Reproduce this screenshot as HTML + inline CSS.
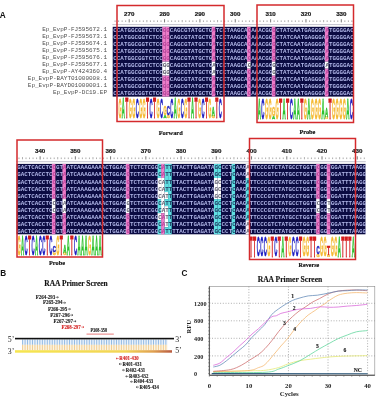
<!DOCTYPE html><html><head><meta charset="utf-8"><style>
html,body{margin:0;padding:0;background:#fff;}svg{display:block;will-change:transform;}
.seq{font-family:"Liberation Mono",monospace;font-size:5.9px;font-weight:bold;text-anchor:middle;}
.num{font-family:"Liberation Sans",sans-serif;font-size:6.2px;font-weight:bold;text-anchor:middle;fill:#1a1a1a;stroke:#1a1a1a;stroke-width:0.2px;}
.lg{font-family:"Liberation Sans",sans-serif;font-size:10px;font-weight:bold;}
.nm{font-family:"Liberation Mono",monospace;font-size:6.0px;text-anchor:end;fill:#505050;}
.lab{font-family:"Liberation Serif",serif;font-weight:bold;fill:#111;text-anchor:middle;stroke:#111;stroke-width:0.15px;}
.pl{font-family:"Liberation Sans",sans-serif;font-weight:bold;fill:#111;}
</style></head><body>
<svg width="377" height="400" viewBox="0 0 377 400">
<rect width="377" height="400" fill="#fff"/>
<text x="-0.2" y="17.6" class="pl" font-size="8.2">A</text>
<text x="107.0" y="31.2" class="nm">Ep_EvpP-FJ595672.1</text>
<text x="107.0" y="38.22" class="nm">Ep_EvpP-FJ595673.1</text>
<text x="107.0" y="45.24" class="nm">Ep_EvpP-FJ595674.1</text>
<text x="107.0" y="52.26" class="nm">Ep_EvpP-FJ595675.1</text>
<text x="107.0" y="59.28" class="nm">Ep_EvpP-FJ595676.1</text>
<text x="107.0" y="66.3" class="nm">Ep_EvpP-FJ595677.1</text>
<text x="107.0" y="73.32" class="nm">Ep_EvpP-AY424360.4</text>
<text x="107.0" y="80.34" class="nm">Ep_EvpP-BAYT01000008.1</text>
<text x="107.0" y="87.36" class="nm">Ep_EvpP-BAYD01000001.1</text>
<text x="107.0" y="94.38" class="nm">Ep_EvpP-DC19.EP</text>
<line x1="112.4" y1="24.6" x2="353.38" y2="24.6" stroke="#a8a8b8" stroke-width="0.7"/>
<rect x="112.7" y="26.8" width="240.38" height="69.8" fill="#0b0b42"/>
<rect x="162.19" y="26.8" width="3.54" height="34.9" fill="#ec7cc8"/>
<rect x="162.19" y="61.7" width="3.54" height="13.96" fill="#ffffff"/>
<rect x="162.19" y="75.66" width="3.54" height="20.94" fill="#ec7cc8"/>
<rect x="165.73" y="26.8" width="3.54" height="34.9" fill="#ec7cc8"/>
<rect x="165.73" y="61.7" width="3.54" height="13.96" fill="#ffffff"/>
<rect x="165.73" y="75.66" width="3.54" height="20.94" fill="#ec7cc8"/>
<rect x="211.68" y="26.8" width="3.54" height="34.9" fill="#ec7cc8"/>
<rect x="211.68" y="61.7" width="3.54" height="13.96" fill="#ffffff"/>
<rect x="211.68" y="75.66" width="3.54" height="20.94" fill="#ec7cc8"/>
<rect x="247.03" y="26.8" width="3.54" height="34.9" fill="#ec7cc8"/>
<rect x="247.03" y="61.7" width="3.54" height="6.98" fill="#ffffff"/>
<rect x="247.03" y="68.68" width="3.54" height="27.92" fill="#ec7cc8"/>
<rect x="271.78" y="26.8" width="3.54" height="34.9" fill="#ec7cc8"/>
<rect x="271.78" y="61.7" width="3.54" height="13.96" fill="#ffffff"/>
<rect x="271.78" y="75.66" width="3.54" height="20.94" fill="#ec7cc8"/>
<rect x="324.8" y="26.8" width="3.54" height="34.9" fill="#ec7cc8"/>
<rect x="324.8" y="61.7" width="3.54" height="6.98" fill="#ffffff"/>
<rect x="324.8" y="68.68" width="3.54" height="27.92" fill="#ec7cc8"/>
<path d="M115.07 20.4V22M118.6 20.4V22M122.14 20.4V22M125.67 20.4V22M132.74 20.4V22M136.28 20.4V22M139.81 20.4V22M143.35 20.4V22M146.88 20V22.2M150.42 20.4V22M153.95 20.4V22M157.49 20.4V22M161.02 20.4V22M168.09 20.4V22M171.63 20.4V22M175.16 20.4V22M178.7 20.4V22M182.23 20V22.2M185.77 20.4V22M189.3 20.4V22M192.84 20.4V22M196.37 20.4V22M203.44 20.4V22M206.98 20.4V22M210.51 20.4V22M214.05 20.4V22M217.58 20V22.2M221.12 20.4V22M224.65 20.4V22M228.19 20.4V22M231.72 20.4V22M238.79 20.4V22M242.33 20.4V22M245.86 20.4V22M249.4 20.4V22M252.93 20V22.2M256.47 20.4V22M260 20.4V22M263.54 20.4V22M267.07 20.4V22M274.14 20.4V22M277.68 20.4V22M281.21 20.4V22M284.75 20.4V22M288.28 20V22.2M291.82 20.4V22M295.35 20.4V22M298.89 20.4V22M302.42 20.4V22M309.49 20.4V22M313.03 20.4V22M316.56 20.4V22M320.1 20.4V22M323.63 20V22.2M327.17 20.4V22M330.7 20.4V22M334.24 20.4V22M337.77 20.4V22M344.84 20.4V22M348.38 20.4V22M351.91 20.4V22" stroke="#8a8a8a" stroke-width="0.7" fill="none"/>
<path d="M129.21 19.2V22.4M164.56 19.2V22.4M199.91 19.2V22.4M235.26 19.2V22.4M270.61 19.2V22.4M305.96 19.2V22.4M341.31 19.2V22.4" stroke="#555" stroke-width="0.8" fill="none"/>
<text x="129.21" y="15.7" class="num">270</text>
<text x="164.56" y="15.7" class="num">280</text>
<text x="199.91" y="15.7" class="num">290</text>
<text x="235.26" y="15.7" class="num">300</text>
<text x="270.61" y="15.7" class="num">310</text>
<text x="305.96" y="15.7" class="num">320</text>
<text x="341.31" y="15.7" class="num">330</text>
<text x="115.07 118.6 122.14 125.67 129.21 132.74 136.28 139.81 143.35 146.88 150.42 153.95 157.49 161.02 171.63 175.16 178.7 182.23 185.77 189.3 192.84 196.37 199.91 203.44 206.98 210.51 217.58 221.12 224.65 228.19 231.72 235.26 238.79 242.33 245.86 252.93 256.47 260 263.54 267.07 270.61 277.68 281.21 284.75 288.28 291.82 295.35 298.89 302.42 305.96 309.49 313.03 316.56 320.1 323.63 330.7 334.24 337.77 341.31 344.84 348.38 351.91" y="32.29" class="seq" fill="#b0b6e8">CCATGGCGGTCTCCCAGCGTATGCTGTCCTAAGCAAAACGGCTATCAATGAGGGATGGGGAC</text>
<text x="164.56 168.09 214.05 249.4 274.14 327.17" y="32.29" class="seq" fill="#b8449a">GGAGGA</text>
<text x="115.07 118.6 122.14 125.67 129.21 132.74 136.28 139.81 143.35 146.88 150.42 153.95 157.49 161.02 171.63 175.16 178.7 182.23 185.77 189.3 192.84 196.37 199.91 203.44 206.98 210.51 217.58 221.12 224.65 228.19 231.72 235.26 238.79 242.33 245.86 252.93 256.47 260 263.54 267.07 270.61 277.68 281.21 284.75 288.28 291.82 295.35 298.89 302.42 305.96 309.49 313.03 316.56 320.1 323.63 330.7 334.24 337.77 341.31 344.84 348.38 351.91" y="39.27" class="seq" fill="#b0b6e8">CCATGGCGGTCTCCCAGCGTATGCTGTCCTAAGCAAAACGGCTATCAATGAGGGATGGGGAC</text>
<text x="164.56 168.09 214.05 249.4 274.14 327.17" y="39.27" class="seq" fill="#b8449a">GGAGGA</text>
<text x="115.07 118.6 122.14 125.67 129.21 132.74 136.28 139.81 143.35 146.88 150.42 153.95 157.49 161.02 171.63 175.16 178.7 182.23 185.77 189.3 192.84 196.37 199.91 203.44 206.98 210.51 217.58 221.12 224.65 228.19 231.72 235.26 238.79 242.33 245.86 252.93 256.47 260 263.54 267.07 270.61 277.68 281.21 284.75 288.28 291.82 295.35 298.89 302.42 305.96 309.49 313.03 316.56 320.1 323.63 330.7 334.24 337.77 341.31 344.84 348.38 351.91" y="46.25" class="seq" fill="#b0b6e8">CCATGGCGGTCTCCCAGCGTATGCTGTCCTAAGCAAAACGGCTATCAATGAGGGATGGGGAC</text>
<text x="164.56 168.09 214.05 249.4 274.14 327.17" y="46.25" class="seq" fill="#b8449a">GGAGGA</text>
<text x="115.07 118.6 122.14 125.67 129.21 132.74 136.28 139.81 143.35 146.88 150.42 153.95 157.49 161.02 171.63 175.16 178.7 182.23 185.77 189.3 192.84 196.37 199.91 203.44 206.98 210.51 217.58 221.12 224.65 228.19 231.72 235.26 238.79 242.33 245.86 252.93 256.47 260 263.54 267.07 270.61 277.68 281.21 284.75 288.28 291.82 295.35 298.89 302.42 305.96 309.49 313.03 316.56 320.1 323.63 330.7 334.24 337.77 341.31 344.84 348.38 351.91" y="53.23" class="seq" fill="#b0b6e8">CCATGGCGGTCTCCCAGCGTATGCTGTCCTAAGCAAAACGGCTATCAATGAGGGATGGGGAC</text>
<text x="164.56 168.09 214.05 249.4 274.14 327.17" y="53.23" class="seq" fill="#b8449a">GGAGGA</text>
<text x="115.07 118.6 122.14 125.67 129.21 132.74 136.28 139.81 143.35 146.88 150.42 153.95 157.49 161.02 171.63 175.16 178.7 182.23 185.77 189.3 192.84 196.37 199.91 203.44 206.98 210.51 217.58 221.12 224.65 228.19 231.72 235.26 238.79 242.33 245.86 252.93 256.47 260 263.54 267.07 270.61 277.68 281.21 284.75 288.28 291.82 295.35 298.89 302.42 305.96 309.49 313.03 316.56 320.1 323.63 330.7 334.24 337.77 341.31 344.84 348.38 351.91" y="60.21" class="seq" fill="#b0b6e8">CCATGGCGGTCTCCCAGCGTATGCTGTCCTAAGCAAAACGGCTATCAATGAGGGATGGGGAC</text>
<text x="164.56 168.09 214.05 249.4 274.14 327.17" y="60.21" class="seq" fill="#b8449a">GGAGGA</text>
<text x="115.07 118.6 122.14 125.67 129.21 132.74 136.28 139.81 143.35 146.88 150.42 153.95 157.49 161.02 171.63 175.16 178.7 182.23 185.77 189.3 192.84 196.37 199.91 203.44 206.98 210.51 217.58 221.12 224.65 228.19 231.72 235.26 238.79 242.33 245.86 252.93 256.47 260 263.54 267.07 270.61 277.68 281.21 284.75 288.28 291.82 295.35 298.89 302.42 305.96 309.49 313.03 316.56 320.1 323.63 330.7 334.24 337.77 341.31 344.84 348.38 351.91" y="67.19" class="seq" fill="#b0b6e8">CCATGGCGGTCTCCCAGCGTATGCTGTCCTAAGCAAAACGGCTATCAATGAGGGATGGGGAC</text>
<text x="164.56 168.09 214.05 249.4 274.14 327.17" y="67.19" class="seq" fill="#606070">GGAGGA</text>
<text x="115.07 118.6 122.14 125.67 129.21 132.74 136.28 139.81 143.35 146.88 150.42 153.95 157.49 161.02 171.63 175.16 178.7 182.23 185.77 189.3 192.84 196.37 199.91 203.44 206.98 210.51 217.58 221.12 224.65 228.19 231.72 235.26 238.79 242.33 245.86 252.93 256.47 260 263.54 267.07 270.61 277.68 281.21 284.75 288.28 291.82 295.35 298.89 302.42 305.96 309.49 313.03 316.56 320.1 323.63 330.7 334.24 337.77 341.31 344.84 348.38 351.91" y="74.17" class="seq" fill="#b0b6e8">CCATGGCGGTCTCCCAGCGTATGCTGTCCTAAGCAAAACGGCTATCAATGAGGGATGGGGAC</text>
<text x="164.56 168.09 214.05 274.14" y="74.17" class="seq" fill="#606070">GGAG</text>
<text x="249.4 327.17" y="74.17" class="seq" fill="#b8449a">GA</text>
<text x="115.07 118.6 122.14 125.67 129.21 132.74 136.28 139.81 143.35 146.88 150.42 153.95 157.49 161.02 171.63 175.16 178.7 182.23 185.77 189.3 192.84 196.37 199.91 203.44 206.98 210.51 217.58 221.12 224.65 228.19 231.72 235.26 238.79 242.33 245.86 252.93 256.47 260 263.54 267.07 270.61 277.68 281.21 284.75 288.28 291.82 295.35 298.89 302.42 305.96 309.49 313.03 316.56 320.1 323.63 330.7 334.24 337.77 341.31 344.84 348.38 351.91" y="81.15" class="seq" fill="#b0b6e8">CCATGGCGGTCTCCCAGCGTATGCTGTCCTAAGCAAAACGGCTATCAATGAGGGATGGGGAC</text>
<text x="164.56 168.09 214.05 249.4 274.14 327.17" y="81.15" class="seq" fill="#b8449a">GGAGGA</text>
<text x="115.07 118.6 122.14 125.67 129.21 132.74 136.28 139.81 143.35 146.88 150.42 153.95 157.49 161.02 171.63 175.16 178.7 182.23 185.77 189.3 192.84 196.37 199.91 203.44 206.98 210.51 217.58 221.12 224.65 228.19 231.72 235.26 238.79 242.33 245.86 252.93 256.47 260 263.54 267.07 270.61 277.68 281.21 284.75 288.28 291.82 295.35 298.89 302.42 305.96 309.49 313.03 316.56 320.1 323.63 330.7 334.24 337.77 341.31 344.84 348.38 351.91" y="88.13" class="seq" fill="#b0b6e8">CCATGGCGGTCTCCCAGCGTATGCTGTCCTAAGCAAAACGGCTATCAATGAGGGATGGGGAC</text>
<text x="164.56 168.09 214.05 249.4 274.14 327.17" y="88.13" class="seq" fill="#b8449a">GGAGGA</text>
<text x="115.07 118.6 122.14 125.67 129.21 132.74 136.28 139.81 143.35 146.88 150.42 153.95 157.49 161.02 171.63 175.16 178.7 182.23 185.77 189.3 192.84 196.37 199.91 203.44 206.98 210.51 217.58 221.12 224.65 228.19 231.72 235.26 238.79 242.33 245.86 252.93 256.47 260 263.54 267.07 270.61 277.68 281.21 284.75 288.28 291.82 295.35 298.89 302.42 305.96 309.49 313.03 316.56 320.1 323.63 330.7 334.24 337.77 341.31 344.84 348.38 351.91" y="95.11" class="seq" fill="#b0b6e8">CCATGGCGGTCTCCCAGCGTATGCTGTCCTAAGCAAAACGGCTATCAATGAGGGATGGGGAC</text>
<text x="164.56 168.09 214.05 249.4 274.14 327.17" y="95.11" class="seq" fill="#b8449a">GGAGGA</text>
<text transform="translate(118.4 118.12) scale(1 2.82)" class="lg" textLength="3.06" lengthAdjust="spacingAndGlyphs" fill="#f5ba34" stroke="#f5ba34" stroke-width="0.6" vector-effect="non-scaling-stroke">G</text>
<text transform="translate(121.86 118.4) scale(1 2.91)" class="lg" textLength="3.06" lengthAdjust="spacingAndGlyphs" fill="#2ec22e" stroke="#2ec22e" stroke-width="0.6" vector-effect="non-scaling-stroke">A</text>
<text transform="translate(125.32 118.4) scale(1 2.91)" class="lg" textLength="3.06" lengthAdjust="spacingAndGlyphs" fill="#d41c1c" stroke="#d41c1c" stroke-width="0.6" vector-effect="non-scaling-stroke">T</text>
<text transform="translate(128.78 118.12) scale(1 2.82)" class="lg" textLength="3.06" lengthAdjust="spacingAndGlyphs" fill="#f5ba34" stroke="#f5ba34" stroke-width="0.6" vector-effect="non-scaling-stroke">G</text>
<text transform="translate(132.24 118.12) scale(1 2.82)" class="lg" textLength="3.06" lengthAdjust="spacingAndGlyphs" fill="#f5ba34" stroke="#f5ba34" stroke-width="0.6" vector-effect="non-scaling-stroke">G</text>
<text transform="translate(135.7 118.12) scale(1 2.82)" class="lg" textLength="3.06" lengthAdjust="spacingAndGlyphs" fill="#1c1cc0" stroke="#1c1cc0" stroke-width="0.6" vector-effect="non-scaling-stroke">C</text>
<text transform="translate(139.16 118.12) scale(1 2.82)" class="lg" textLength="3.06" lengthAdjust="spacingAndGlyphs" fill="#f5ba34" stroke="#f5ba34" stroke-width="0.6" vector-effect="non-scaling-stroke">G</text>
<text transform="translate(142.62 118.12) scale(1 2.82)" class="lg" textLength="3.06" lengthAdjust="spacingAndGlyphs" fill="#f5ba34" stroke="#f5ba34" stroke-width="0.6" vector-effect="non-scaling-stroke">G</text>
<text transform="translate(146.08 118.4) scale(1 2.91)" class="lg" textLength="3.06" lengthAdjust="spacingAndGlyphs" fill="#d41c1c" stroke="#d41c1c" stroke-width="0.6" vector-effect="non-scaling-stroke">T</text>
<text transform="translate(149.54 118.12) scale(1 2.82)" class="lg" textLength="3.06" lengthAdjust="spacingAndGlyphs" fill="#1c1cc0" stroke="#1c1cc0" stroke-width="0.6" vector-effect="non-scaling-stroke">C</text>
<text transform="translate(153 118.4) scale(1 2.91)" class="lg" textLength="3.06" lengthAdjust="spacingAndGlyphs" fill="#d41c1c" stroke="#d41c1c" stroke-width="0.6" vector-effect="non-scaling-stroke">T</text>
<text transform="translate(156.46 118.12) scale(1 2.82)" class="lg" textLength="3.06" lengthAdjust="spacingAndGlyphs" fill="#f5ba34" stroke="#f5ba34" stroke-width="0.6" vector-effect="non-scaling-stroke">G</text>
<text transform="translate(159.92 118.12) scale(1 2.82)" class="lg" textLength="3.06" lengthAdjust="spacingAndGlyphs" fill="#1c1cc0" stroke="#1c1cc0" stroke-width="0.6" vector-effect="non-scaling-stroke">C</text>
<text transform="translate(163.38 118.4) scale(1 0.41)" class="lg" textLength="3.06" lengthAdjust="spacingAndGlyphs" fill="#2ec22e" stroke="#2ec22e" stroke-width="0.6" vector-effect="non-scaling-stroke">A</text>
<text transform="translate(163.38 115.48) scale(1 1.19)" class="lg" textLength="3.06" lengthAdjust="spacingAndGlyphs" fill="#f5ba34" stroke="#f5ba34" stroke-width="0.6" vector-effect="non-scaling-stroke">G</text>
<text transform="translate(166.84 118.36) scale(1 0.4)" class="lg" textLength="3.06" lengthAdjust="spacingAndGlyphs" fill="#f5ba34" stroke="#f5ba34" stroke-width="0.6" vector-effect="non-scaling-stroke">G</text>
<text transform="translate(166.84 115.48) scale(1 1.19)" class="lg" textLength="3.06" lengthAdjust="spacingAndGlyphs" fill="#1c1cc0" stroke="#1c1cc0" stroke-width="0.6" vector-effect="non-scaling-stroke">C</text>
<text transform="translate(170.3 118.12) scale(1 2.82)" class="lg" textLength="3.06" lengthAdjust="spacingAndGlyphs" fill="#1c1cc0" stroke="#1c1cc0" stroke-width="0.6" vector-effect="non-scaling-stroke">C</text>
<text transform="translate(173.76 118.4) scale(1 2.91)" class="lg" textLength="3.06" lengthAdjust="spacingAndGlyphs" fill="#2ec22e" stroke="#2ec22e" stroke-width="0.6" vector-effect="non-scaling-stroke">A</text>
<text transform="translate(177.22 118.12) scale(1 2.82)" class="lg" textLength="3.06" lengthAdjust="spacingAndGlyphs" fill="#f5ba34" stroke="#f5ba34" stroke-width="0.6" vector-effect="non-scaling-stroke">G</text>
<text transform="translate(180.68 118.12) scale(1 2.82)" class="lg" textLength="3.06" lengthAdjust="spacingAndGlyphs" fill="#1c1cc0" stroke="#1c1cc0" stroke-width="0.6" vector-effect="non-scaling-stroke">C</text>
<text transform="translate(184.14 118.12) scale(1 2.82)" class="lg" textLength="3.06" lengthAdjust="spacingAndGlyphs" fill="#f5ba34" stroke="#f5ba34" stroke-width="0.6" vector-effect="non-scaling-stroke">G</text>
<text transform="translate(187.6 118.4) scale(1 2.91)" class="lg" textLength="3.06" lengthAdjust="spacingAndGlyphs" fill="#d41c1c" stroke="#d41c1c" stroke-width="0.6" vector-effect="non-scaling-stroke">T</text>
<text transform="translate(191.06 118.4) scale(1 2.91)" class="lg" textLength="3.06" lengthAdjust="spacingAndGlyphs" fill="#2ec22e" stroke="#2ec22e" stroke-width="0.6" vector-effect="non-scaling-stroke">A</text>
<text transform="translate(194.52 118.4) scale(1 2.91)" class="lg" textLength="3.06" lengthAdjust="spacingAndGlyphs" fill="#d41c1c" stroke="#d41c1c" stroke-width="0.6" vector-effect="non-scaling-stroke">T</text>
<text transform="translate(197.98 118.12) scale(1 2.82)" class="lg" textLength="3.06" lengthAdjust="spacingAndGlyphs" fill="#f5ba34" stroke="#f5ba34" stroke-width="0.6" vector-effect="non-scaling-stroke">G</text>
<text transform="translate(201.44 118.12) scale(1 2.82)" class="lg" textLength="3.06" lengthAdjust="spacingAndGlyphs" fill="#1c1cc0" stroke="#1c1cc0" stroke-width="0.6" vector-effect="non-scaling-stroke">C</text>
<text transform="translate(204.9 118.4) scale(1 2.91)" class="lg" textLength="3.06" lengthAdjust="spacingAndGlyphs" fill="#d41c1c" stroke="#d41c1c" stroke-width="0.6" vector-effect="non-scaling-stroke">T</text>
<text transform="translate(208.36 118.12) scale(1 2.82)" class="lg" textLength="3.06" lengthAdjust="spacingAndGlyphs" fill="#f5ba34" stroke="#f5ba34" stroke-width="0.6" vector-effect="non-scaling-stroke">G</text>
<text transform="translate(211.82 118.36) scale(1 0.4)" class="lg" textLength="3.06" lengthAdjust="spacingAndGlyphs" fill="#f5ba34" stroke="#f5ba34" stroke-width="0.6" vector-effect="non-scaling-stroke">G</text>
<text transform="translate(211.82 115.6) scale(1 1.22)" class="lg" textLength="3.06" lengthAdjust="spacingAndGlyphs" fill="#2ec22e" stroke="#2ec22e" stroke-width="0.6" vector-effect="non-scaling-stroke">A</text>
<text transform="translate(215.28 118.4) scale(1 2.91)" class="lg" textLength="3.06" lengthAdjust="spacingAndGlyphs" fill="#d41c1c" stroke="#d41c1c" stroke-width="0.6" vector-effect="non-scaling-stroke">T</text>
<text transform="translate(218.74 118.12) scale(1 2.82)" class="lg" textLength="3.06" lengthAdjust="spacingAndGlyphs" fill="#1c1cc0" stroke="#1c1cc0" stroke-width="0.6" vector-effect="non-scaling-stroke">C</text>
<text transform="translate(257.83 119.2) scale(1 2.99)" class="lg" textLength="3.14" lengthAdjust="spacingAndGlyphs" fill="#2ec22e" stroke="#2ec22e" stroke-width="0.6" vector-effect="non-scaling-stroke">A</text>
<text transform="translate(261.37 118.92) scale(1 2.91)" class="lg" textLength="3.14" lengthAdjust="spacingAndGlyphs" fill="#1c1cc0" stroke="#1c1cc0" stroke-width="0.6" vector-effect="non-scaling-stroke">C</text>
<text transform="translate(264.9 118.92) scale(1 2.91)" class="lg" textLength="3.14" lengthAdjust="spacingAndGlyphs" fill="#f5ba34" stroke="#f5ba34" stroke-width="0.6" vector-effect="non-scaling-stroke">G</text>
<text transform="translate(268.44 118.92) scale(1 2.91)" class="lg" textLength="3.14" lengthAdjust="spacingAndGlyphs" fill="#f5ba34" stroke="#f5ba34" stroke-width="0.6" vector-effect="non-scaling-stroke">G</text>
<text transform="translate(271.98 119.2) scale(1 0.42)" class="lg" textLength="3.14" lengthAdjust="spacingAndGlyphs" fill="#2ec22e" stroke="#2ec22e" stroke-width="0.6" vector-effect="non-scaling-stroke">A</text>
<text transform="translate(271.98 116.2) scale(1 1.22)" class="lg" textLength="3.14" lengthAdjust="spacingAndGlyphs" fill="#f5ba34" stroke="#f5ba34" stroke-width="0.6" vector-effect="non-scaling-stroke">G</text>
<text transform="translate(275.51 118.92) scale(1 2.91)" class="lg" textLength="3.14" lengthAdjust="spacingAndGlyphs" fill="#f5ba34" stroke="#f5ba34" stroke-width="0.6" vector-effect="non-scaling-stroke">G</text>
<text transform="translate(279.05 119.2) scale(1 2.99)" class="lg" textLength="3.14" lengthAdjust="spacingAndGlyphs" fill="#d41c1c" stroke="#d41c1c" stroke-width="0.6" vector-effect="non-scaling-stroke">T</text>
<text transform="translate(282.58 119.2) scale(1 2.99)" class="lg" textLength="3.14" lengthAdjust="spacingAndGlyphs" fill="#2ec22e" stroke="#2ec22e" stroke-width="0.6" vector-effect="non-scaling-stroke">A</text>
<text transform="translate(286.12 119.2) scale(1 2.99)" class="lg" textLength="3.14" lengthAdjust="spacingAndGlyphs" fill="#d41c1c" stroke="#d41c1c" stroke-width="0.6" vector-effect="non-scaling-stroke">T</text>
<text transform="translate(289.65 118.92) scale(1 2.91)" class="lg" textLength="3.14" lengthAdjust="spacingAndGlyphs" fill="#1c1cc0" stroke="#1c1cc0" stroke-width="0.6" vector-effect="non-scaling-stroke">C</text>
<text transform="translate(293.19 119.2) scale(1 2.99)" class="lg" textLength="3.14" lengthAdjust="spacingAndGlyphs" fill="#2ec22e" stroke="#2ec22e" stroke-width="0.6" vector-effect="non-scaling-stroke">A</text>
<text transform="translate(296.72 119.2) scale(1 2.99)" class="lg" textLength="3.14" lengthAdjust="spacingAndGlyphs" fill="#2ec22e" stroke="#2ec22e" stroke-width="0.6" vector-effect="non-scaling-stroke">A</text>
<text transform="translate(300.25 119.2) scale(1 2.99)" class="lg" textLength="3.14" lengthAdjust="spacingAndGlyphs" fill="#d41c1c" stroke="#d41c1c" stroke-width="0.6" vector-effect="non-scaling-stroke">T</text>
<text transform="translate(303.79 118.92) scale(1 2.91)" class="lg" textLength="3.14" lengthAdjust="spacingAndGlyphs" fill="#f5ba34" stroke="#f5ba34" stroke-width="0.6" vector-effect="non-scaling-stroke">G</text>
<text transform="translate(307.32 119.2) scale(1 2.99)" class="lg" textLength="3.14" lengthAdjust="spacingAndGlyphs" fill="#2ec22e" stroke="#2ec22e" stroke-width="0.6" vector-effect="non-scaling-stroke">A</text>
<text transform="translate(310.86 118.92) scale(1 2.91)" class="lg" textLength="3.14" lengthAdjust="spacingAndGlyphs" fill="#f5ba34" stroke="#f5ba34" stroke-width="0.6" vector-effect="non-scaling-stroke">G</text>
<text transform="translate(314.39 118.92) scale(1 2.91)" class="lg" textLength="3.14" lengthAdjust="spacingAndGlyphs" fill="#f5ba34" stroke="#f5ba34" stroke-width="0.6" vector-effect="non-scaling-stroke">G</text>
<text transform="translate(317.93 118.92) scale(1 2.91)" class="lg" textLength="3.14" lengthAdjust="spacingAndGlyphs" fill="#f5ba34" stroke="#f5ba34" stroke-width="0.6" vector-effect="non-scaling-stroke">G</text>
<text transform="translate(321.46 119.2) scale(1 2.99)" class="lg" textLength="3.14" lengthAdjust="spacingAndGlyphs" fill="#2ec22e" stroke="#2ec22e" stroke-width="0.6" vector-effect="non-scaling-stroke">A</text>
<text transform="translate(325 119.17) scale(1 0.29)" class="lg" textLength="3.14" lengthAdjust="spacingAndGlyphs" fill="#f5ba34" stroke="#f5ba34" stroke-width="0.6" vector-effect="non-scaling-stroke">G</text>
<text transform="translate(325 117.14) scale(1 1.35)" class="lg" textLength="3.14" lengthAdjust="spacingAndGlyphs" fill="#2ec22e" stroke="#2ec22e" stroke-width="0.6" vector-effect="non-scaling-stroke">A</text>
<text transform="translate(328.54 119.2) scale(1 2.99)" class="lg" textLength="3.14" lengthAdjust="spacingAndGlyphs" fill="#d41c1c" stroke="#d41c1c" stroke-width="0.6" vector-effect="non-scaling-stroke">T</text>
<text transform="translate(332.07 118.92) scale(1 2.91)" class="lg" textLength="3.14" lengthAdjust="spacingAndGlyphs" fill="#f5ba34" stroke="#f5ba34" stroke-width="0.6" vector-effect="non-scaling-stroke">G</text>
<text transform="translate(335.61 118.92) scale(1 2.91)" class="lg" textLength="3.14" lengthAdjust="spacingAndGlyphs" fill="#f5ba34" stroke="#f5ba34" stroke-width="0.6" vector-effect="non-scaling-stroke">G</text>
<text transform="translate(339.14 118.92) scale(1 2.91)" class="lg" textLength="3.14" lengthAdjust="spacingAndGlyphs" fill="#f5ba34" stroke="#f5ba34" stroke-width="0.6" vector-effect="non-scaling-stroke">G</text>
<text transform="translate(342.68 118.92) scale(1 2.91)" class="lg" textLength="3.14" lengthAdjust="spacingAndGlyphs" fill="#f5ba34" stroke="#f5ba34" stroke-width="0.6" vector-effect="non-scaling-stroke">G</text>
<text transform="translate(346.21 119.2) scale(1 2.99)" class="lg" textLength="3.14" lengthAdjust="spacingAndGlyphs" fill="#2ec22e" stroke="#2ec22e" stroke-width="0.6" vector-effect="non-scaling-stroke">A</text>
<text transform="translate(349.75 118.92) scale(1 2.91)" class="lg" textLength="3.14" lengthAdjust="spacingAndGlyphs" fill="#1c1cc0" stroke="#1c1cc0" stroke-width="0.6" vector-effect="non-scaling-stroke">C</text>
<rect x="117" y="5.5" width="107" height="116" fill="none" stroke="#d42a2c" stroke-width="1.5"/>
<rect x="257" y="5" width="96.5" height="117.5" fill="none" stroke="#d42a2c" stroke-width="1.5"/>
<text x="170.7" y="135.1" class="lab" font-size="6.4">Forward</text>
<text x="307.4" y="134.4" class="lab" font-size="6.3">Probe</text>
<line x1="16.3" y1="161.7" x2="365.78" y2="161.7" stroke="#a8a8b8" stroke-width="0.7"/>
<rect x="16.6" y="163.9" width="348.88" height="70.4" fill="#0b0b42"/>
<rect x="51.84" y="163.9" width="3.52" height="35.2" fill="#ec7cc8"/>
<rect x="51.84" y="199.1" width="3.52" height="14.08" fill="#ffffff"/>
<rect x="51.84" y="213.18" width="3.52" height="21.12" fill="#ec7cc8"/>
<rect x="62.41" y="163.9" width="3.52" height="35.2" fill="#ec7cc8"/>
<rect x="62.41" y="199.1" width="3.52" height="14.08" fill="#ffffff"/>
<rect x="62.41" y="213.18" width="3.52" height="21.12" fill="#ec7cc8"/>
<rect x="125.84" y="163.9" width="3.52" height="35.2" fill="#ec7cc8"/>
<rect x="125.84" y="199.1" width="3.52" height="14.08" fill="#ffffff"/>
<rect x="125.84" y="213.18" width="3.52" height="21.12" fill="#ec7cc8"/>
<rect x="157.56" y="163.9" width="3.52" height="14.08" fill="#5fe0e2"/>
<rect x="157.56" y="177.98" width="3.52" height="21.12" fill="#ffffff"/>
<rect x="157.56" y="199.1" width="3.52" height="14.08" fill="#5fe0e2"/>
<rect x="157.56" y="213.18" width="3.52" height="7.04" fill="#ffffff"/>
<rect x="157.56" y="220.22" width="3.52" height="14.08" fill="#5fe0e2"/>
<rect x="161.08" y="163.9" width="3.52" height="14.08" fill="#ec7cc8"/>
<rect x="161.08" y="177.98" width="3.52" height="35.2" fill="#ffffff"/>
<rect x="161.08" y="213.18" width="3.52" height="21.12" fill="#ec7cc8"/>
<rect x="164.61" y="163.9" width="3.52" height="28.16" fill="#5fe0e2"/>
<rect x="164.61" y="192.06" width="3.52" height="7.04" fill="#ffffff"/>
<rect x="164.61" y="199.1" width="3.52" height="7.04" fill="#5fe0e2"/>
<rect x="164.61" y="206.14" width="3.52" height="21.12" fill="#ffffff"/>
<rect x="164.61" y="227.26" width="3.52" height="7.04" fill="#5fe0e2"/>
<rect x="168.13" y="163.9" width="3.52" height="70.4" fill="#5fe0e2"/>
<rect x="213.94" y="163.9" width="3.52" height="14.08" fill="#5fe0e2"/>
<rect x="213.94" y="177.98" width="3.52" height="21.12" fill="#ffffff"/>
<rect x="213.94" y="199.1" width="3.52" height="35.2" fill="#5fe0e2"/>
<rect x="217.47" y="163.9" width="3.52" height="14.08" fill="#5fe0e2"/>
<rect x="217.47" y="177.98" width="3.52" height="21.12" fill="#ffffff"/>
<rect x="217.47" y="199.1" width="3.52" height="35.2" fill="#5fe0e2"/>
<rect x="231.56" y="163.9" width="3.52" height="70.4" fill="#5fe0e2"/>
<rect x="245.66" y="163.9" width="3.52" height="14.08" fill="#f4f4fa"/>
<rect x="245.66" y="177.98" width="3.52" height="42.24" fill="#5fe0e2"/>
<rect x="245.66" y="220.22" width="3.52" height="14.08" fill="#f4f4fa"/>
<rect x="316.14" y="163.9" width="3.52" height="35.2" fill="#ec7cc8"/>
<rect x="316.14" y="199.1" width="3.52" height="14.08" fill="#ffffff"/>
<rect x="316.14" y="213.18" width="3.52" height="21.12" fill="#ec7cc8"/>
<rect x="326.71" y="163.9" width="3.52" height="35.2" fill="#ec7cc8"/>
<rect x="326.71" y="199.1" width="3.52" height="14.08" fill="#ffffff"/>
<rect x="326.71" y="213.18" width="3.52" height="21.12" fill="#ec7cc8"/>
<path d="M18.96 157.5V159.1M22.49 157.1V159.3M26.01 157.5V159.1M29.53 157.5V159.1M33.06 157.5V159.1M36.58 157.5V159.1M43.63 157.5V159.1M47.15 157.5V159.1M50.68 157.5V159.1M54.2 157.5V159.1M57.73 157.1V159.3M61.25 157.5V159.1M64.77 157.5V159.1M68.3 157.5V159.1M71.82 157.5V159.1M78.87 157.5V159.1M82.39 157.5V159.1M85.92 157.5V159.1M89.44 157.5V159.1M92.97 157.1V159.3M96.49 157.5V159.1M100.01 157.5V159.1M103.54 157.5V159.1M107.06 157.5V159.1M114.11 157.5V159.1M117.63 157.5V159.1M121.16 157.5V159.1M124.68 157.5V159.1M128.21 157.1V159.3M131.73 157.5V159.1M135.25 157.5V159.1M138.78 157.5V159.1M142.3 157.5V159.1M149.35 157.5V159.1M152.87 157.5V159.1M156.4 157.5V159.1M159.92 157.5V159.1M163.45 157.1V159.3M166.97 157.5V159.1M170.49 157.5V159.1M174.02 157.5V159.1M177.54 157.5V159.1M184.59 157.5V159.1M188.11 157.5V159.1M191.64 157.5V159.1M195.16 157.5V159.1M198.69 157.1V159.3M202.21 157.5V159.1M205.73 157.5V159.1M209.26 157.5V159.1M212.78 157.5V159.1M219.83 157.5V159.1M223.35 157.5V159.1M226.88 157.5V159.1M230.4 157.5V159.1M233.93 157.1V159.3M237.45 157.5V159.1M240.97 157.5V159.1M244.5 157.5V159.1M248.02 157.5V159.1M255.07 157.5V159.1M258.59 157.5V159.1M262.12 157.5V159.1M265.64 157.5V159.1M269.17 157.1V159.3M272.69 157.5V159.1M276.21 157.5V159.1M279.74 157.5V159.1M283.26 157.5V159.1M290.31 157.5V159.1M293.83 157.5V159.1M297.36 157.5V159.1M300.88 157.5V159.1M304.41 157.1V159.3M307.93 157.5V159.1M311.45 157.5V159.1M314.98 157.5V159.1M318.5 157.5V159.1M325.55 157.5V159.1M329.07 157.5V159.1M332.6 157.5V159.1M336.12 157.5V159.1M339.65 157.1V159.3M343.17 157.5V159.1M346.69 157.5V159.1M350.22 157.5V159.1M353.74 157.5V159.1M360.79 157.5V159.1M364.31 157.5V159.1" stroke="#8a8a8a" stroke-width="0.7" fill="none"/>
<path d="M40.11 156.3V159.5M75.35 156.3V159.5M110.59 156.3V159.5M145.83 156.3V159.5M181.07 156.3V159.5M216.31 156.3V159.5M251.55 156.3V159.5M286.79 156.3V159.5M322.03 156.3V159.5M357.27 156.3V159.5" stroke="#555" stroke-width="0.8" fill="none"/>
<text x="40.11" y="152.8" class="num">340</text>
<text x="75.35" y="152.8" class="num">350</text>
<text x="110.59" y="152.8" class="num">360</text>
<text x="145.83" y="152.8" class="num">370</text>
<text x="181.07" y="152.8" class="num">380</text>
<text x="216.31" y="152.8" class="num">390</text>
<text x="251.55" y="152.8" class="num">400</text>
<text x="286.79" y="152.8" class="num">410</text>
<text x="322.03" y="152.8" class="num">420</text>
<text x="357.27" y="152.8" class="num">430</text>
<text x="18.96 22.49 26.01 29.53 33.06 36.58 40.11 43.63 47.15 50.68 57.73 61.25 68.3 71.82 75.35 78.87 82.39 85.92 89.44 92.97 96.49 100.01 103.54 107.06 110.59 114.11 117.63 121.16 124.68 131.73 135.25 138.78 142.3 145.83 149.35 152.87 156.4 174.02 177.54 181.07 184.59 188.11 191.64 195.16 198.69 202.21 205.73 209.26 212.78 223.35 226.88 230.4 237.45 240.97 244.5 251.55 255.07 258.59 262.12 265.64 269.17 272.69 276.21 279.74 283.26 286.79 290.31 293.83 297.36 300.88 304.41 307.93 311.45 314.98 322.03 325.55 332.6 336.12 339.65 343.17 346.69 350.22 353.74 357.27 360.79 364.31" y="169.42" class="seq" fill="#b0b6e8">GACTCACCTCGTATCAAAGAAAACTGGAGTCTCTCGGTTACTTGAGATACCTAAGTTCCCGTCTATGCCTGGTTGGGGATTTAAGG</text>
<text x="54.2 64.77 128.21 163.45 318.5 329.07" y="169.42" class="seq" fill="#b8449a">CAGACT</text>
<text x="159.92 166.97 170.49 216.31 219.83 233.93" y="169.42" class="seq" fill="#1a3a60">CTTGCC</text>
<text x="248.02" y="169.42" class="seq" fill="#606070">A</text>
<text x="18.96 22.49 26.01 29.53 33.06 36.58 40.11 43.63 47.15 50.68 57.73 61.25 68.3 71.82 75.35 78.87 82.39 85.92 89.44 92.97 96.49 100.01 103.54 107.06 110.59 114.11 117.63 121.16 124.68 131.73 135.25 138.78 142.3 145.83 149.35 152.87 156.4 174.02 177.54 181.07 184.59 188.11 191.64 195.16 198.69 202.21 205.73 209.26 212.78 223.35 226.88 230.4 237.45 240.97 244.5 251.55 255.07 258.59 262.12 265.64 269.17 272.69 276.21 279.74 283.26 286.79 290.31 293.83 297.36 300.88 304.41 307.93 311.45 314.98 322.03 325.55 332.6 336.12 339.65 343.17 346.69 350.22 353.74 357.27 360.79 364.31" y="176.46" class="seq" fill="#b0b6e8">GACTCACCTCGTATCAAAGAAAACTGGAGTCTCTCGGTTACTTGAGATACCTAAGTTCCCGTCTATGCCTGGTTGGGGATTTAAGG</text>
<text x="54.2 64.77 128.21 163.45 318.5 329.07" y="176.46" class="seq" fill="#b8449a">CAGACT</text>
<text x="159.92 166.97 170.49 216.31 219.83 233.93" y="176.46" class="seq" fill="#1a3a60">CTTGCC</text>
<text x="248.02" y="176.46" class="seq" fill="#606070">A</text>
<text x="18.96 22.49 26.01 29.53 33.06 36.58 40.11 43.63 47.15 50.68 57.73 61.25 68.3 71.82 75.35 78.87 82.39 85.92 89.44 92.97 96.49 100.01 103.54 107.06 110.59 114.11 117.63 121.16 124.68 131.73 135.25 138.78 142.3 145.83 149.35 152.87 156.4 174.02 177.54 181.07 184.59 188.11 191.64 195.16 198.69 202.21 205.73 209.26 212.78 223.35 226.88 230.4 237.45 240.97 244.5 251.55 255.07 258.59 262.12 265.64 269.17 272.69 276.21 279.74 283.26 286.79 290.31 293.83 297.36 300.88 304.41 307.93 311.45 314.98 322.03 325.55 332.6 336.12 339.65 343.17 346.69 350.22 353.74 357.27 360.79 364.31" y="183.5" class="seq" fill="#b0b6e8">GACTCACCTCGTATCAAAGAAAACTGGAGTCTCTCGGTTACTTGAGATACCTAAGTTCCCGTCTATGCCTGGTTGGGGATTTAAGG</text>
<text x="54.2 64.77 128.21 318.5 329.07" y="183.5" class="seq" fill="#b8449a">CAGCT</text>
<text x="159.92 163.45 216.31 219.83" y="183.5" class="seq" fill="#606070">CAGC</text>
<text x="166.97 170.49 233.93 248.02" y="183.5" class="seq" fill="#1a3a60">TTCA</text>
<text x="18.96 22.49 26.01 29.53 33.06 36.58 40.11 43.63 47.15 50.68 57.73 61.25 68.3 71.82 75.35 78.87 82.39 85.92 89.44 92.97 96.49 100.01 103.54 107.06 110.59 114.11 117.63 121.16 124.68 131.73 135.25 138.78 142.3 145.83 149.35 152.87 156.4 174.02 177.54 181.07 184.59 188.11 191.64 195.16 198.69 202.21 205.73 209.26 212.78 223.35 226.88 230.4 237.45 240.97 244.5 251.55 255.07 258.59 262.12 265.64 269.17 272.69 276.21 279.74 283.26 286.79 290.31 293.83 297.36 300.88 304.41 307.93 311.45 314.98 322.03 325.55 332.6 336.12 339.65 343.17 346.69 350.22 353.74 357.27 360.79 364.31" y="190.54" class="seq" fill="#b0b6e8">GACTCACCTCGTATCAAAGAAAACTGGAGTCTCTCGGTTACTTGAGATACCTAAGTTCCCGTCTATGCCTGGTTGGGGATTTAAGG</text>
<text x="54.2 64.77 128.21 318.5 329.07" y="190.54" class="seq" fill="#b8449a">CAGCT</text>
<text x="159.92 163.45 216.31 219.83" y="190.54" class="seq" fill="#606070">CAGC</text>
<text x="166.97 170.49 233.93 248.02" y="190.54" class="seq" fill="#1a3a60">TTCA</text>
<text x="18.96 22.49 26.01 29.53 33.06 36.58 40.11 43.63 47.15 50.68 57.73 61.25 68.3 71.82 75.35 78.87 82.39 85.92 89.44 92.97 96.49 100.01 103.54 107.06 110.59 114.11 117.63 121.16 124.68 131.73 135.25 138.78 142.3 145.83 149.35 152.87 156.4 174.02 177.54 181.07 184.59 188.11 191.64 195.16 198.69 202.21 205.73 209.26 212.78 223.35 226.88 230.4 237.45 240.97 244.5 251.55 255.07 258.59 262.12 265.64 269.17 272.69 276.21 279.74 283.26 286.79 290.31 293.83 297.36 300.88 304.41 307.93 311.45 314.98 322.03 325.55 332.6 336.12 339.65 343.17 346.69 350.22 353.74 357.27 360.79 364.31" y="197.58" class="seq" fill="#b0b6e8">GACTCACCTCGTATCAAAGAAAACTGGAGTCTCTCGGTTACTTGAGATACCTAAGTTCCCGTCTATGCCTGGTTGGGGATTTAAGG</text>
<text x="54.2 64.77 128.21 318.5 329.07" y="197.58" class="seq" fill="#b8449a">CAGCT</text>
<text x="159.92 163.45 166.97 216.31 219.83" y="197.58" class="seq" fill="#606070">CATGC</text>
<text x="170.49 233.93 248.02" y="197.58" class="seq" fill="#1a3a60">TCA</text>
<text x="18.96 22.49 26.01 29.53 33.06 36.58 40.11 43.63 47.15 50.68 57.73 61.25 68.3 71.82 75.35 78.87 82.39 85.92 89.44 92.97 96.49 100.01 103.54 107.06 110.59 114.11 117.63 121.16 124.68 131.73 135.25 138.78 142.3 145.83 149.35 152.87 156.4 174.02 177.54 181.07 184.59 188.11 191.64 195.16 198.69 202.21 205.73 209.26 212.78 223.35 226.88 230.4 237.45 240.97 244.5 251.55 255.07 258.59 262.12 265.64 269.17 272.69 276.21 279.74 283.26 286.79 290.31 293.83 297.36 300.88 304.41 307.93 311.45 314.98 322.03 325.55 332.6 336.12 339.65 343.17 346.69 350.22 353.74 357.27 360.79 364.31" y="204.62" class="seq" fill="#b0b6e8">GACTCACCTCGTATCAAAGAAAACTGGAGTCTCTCGGTTACTTGAGATACCTAAGTTCCCGTCTATGCCTGGTTGGGGATTTAAGG</text>
<text x="54.2 64.77 128.21 163.45 318.5 329.07" y="204.62" class="seq" fill="#606070">CAGACT</text>
<text x="159.92 166.97 170.49 216.31 219.83 233.93 248.02" y="204.62" class="seq" fill="#1a3a60">CTTGCCA</text>
<text x="18.96 22.49 26.01 29.53 33.06 36.58 40.11 43.63 47.15 50.68 57.73 61.25 68.3 71.82 75.35 78.87 82.39 85.92 89.44 92.97 96.49 100.01 103.54 107.06 110.59 114.11 117.63 121.16 124.68 131.73 135.25 138.78 142.3 145.83 149.35 152.87 156.4 174.02 177.54 181.07 184.59 188.11 191.64 195.16 198.69 202.21 205.73 209.26 212.78 223.35 226.88 230.4 237.45 240.97 244.5 251.55 255.07 258.59 262.12 265.64 269.17 272.69 276.21 279.74 283.26 286.79 290.31 293.83 297.36 300.88 304.41 307.93 311.45 314.98 322.03 325.55 332.6 336.12 339.65 343.17 346.69 350.22 353.74 357.27 360.79 364.31" y="211.66" class="seq" fill="#b0b6e8">GACTCACCTCGTATCAAAGAAAACTGGAGTCTCTCGGTTACTTGAGATACCTAAGTTCCCGTCTATGCCTGGTTGGGGATTTAAGG</text>
<text x="54.2 64.77 128.21 163.45 166.97 318.5 329.07" y="211.66" class="seq" fill="#606070">CAGATCT</text>
<text x="159.92 170.49 216.31 219.83 233.93 248.02" y="211.66" class="seq" fill="#1a3a60">CTGCCA</text>
<text x="18.96 22.49 26.01 29.53 33.06 36.58 40.11 43.63 47.15 50.68 57.73 61.25 68.3 71.82 75.35 78.87 82.39 85.92 89.44 92.97 96.49 100.01 103.54 107.06 110.59 114.11 117.63 121.16 124.68 131.73 135.25 138.78 142.3 145.83 149.35 152.87 156.4 174.02 177.54 181.07 184.59 188.11 191.64 195.16 198.69 202.21 205.73 209.26 212.78 223.35 226.88 230.4 237.45 240.97 244.5 251.55 255.07 258.59 262.12 265.64 269.17 272.69 276.21 279.74 283.26 286.79 290.31 293.83 297.36 300.88 304.41 307.93 311.45 314.98 322.03 325.55 332.6 336.12 339.65 343.17 346.69 350.22 353.74 357.27 360.79 364.31" y="218.7" class="seq" fill="#b0b6e8">GACTCACCTCGTATCAAAGAAAACTGGAGTCTCTCGGTTACTTGAGATACCTAAGTTCCCGTCTATGCCTGGTTGGGGATTTAAGG</text>
<text x="54.2 64.77 128.21 163.45 318.5 329.07" y="218.7" class="seq" fill="#b8449a">CAGACT</text>
<text x="159.92 166.97" y="218.7" class="seq" fill="#606070">CT</text>
<text x="170.49 216.31 219.83 233.93 248.02" y="218.7" class="seq" fill="#1a3a60">TGCCA</text>
<text x="18.96 22.49 26.01 29.53 33.06 36.58 40.11 43.63 47.15 50.68 57.73 61.25 68.3 71.82 75.35 78.87 82.39 85.92 89.44 92.97 96.49 100.01 103.54 107.06 110.59 114.11 117.63 121.16 124.68 131.73 135.25 138.78 142.3 145.83 149.35 152.87 156.4 174.02 177.54 181.07 184.59 188.11 191.64 195.16 198.69 202.21 205.73 209.26 212.78 223.35 226.88 230.4 237.45 240.97 244.5 251.55 255.07 258.59 262.12 265.64 269.17 272.69 276.21 279.74 283.26 286.79 290.31 293.83 297.36 300.88 304.41 307.93 311.45 314.98 322.03 325.55 332.6 336.12 339.65 343.17 346.69 350.22 353.74 357.27 360.79 364.31" y="225.74" class="seq" fill="#b0b6e8">GACTCACCTCGTATCAAAGAAAACTGGAGTCTCTCGGTTACTTGAGATACCTAAGTTCCCGTCTATGCCTGGTTGGGGATTTAAGG</text>
<text x="54.2 64.77 128.21 163.45 318.5 329.07" y="225.74" class="seq" fill="#b8449a">CAGACT</text>
<text x="159.92 170.49 216.31 219.83 233.93" y="225.74" class="seq" fill="#1a3a60">CTGCC</text>
<text x="166.97 248.02" y="225.74" class="seq" fill="#606070">TA</text>
<text x="18.96 22.49 26.01 29.53 33.06 36.58 40.11 43.63 47.15 50.68 57.73 61.25 68.3 71.82 75.35 78.87 82.39 85.92 89.44 92.97 96.49 100.01 103.54 107.06 110.59 114.11 117.63 121.16 124.68 131.73 135.25 138.78 142.3 145.83 149.35 152.87 156.4 174.02 177.54 181.07 184.59 188.11 191.64 195.16 198.69 202.21 205.73 209.26 212.78 223.35 226.88 230.4 237.45 240.97 244.5 251.55 255.07 258.59 262.12 265.64 269.17 272.69 276.21 279.74 283.26 286.79 290.31 293.83 297.36 300.88 304.41 307.93 311.45 314.98 322.03 325.55 332.6 336.12 339.65 343.17 346.69 350.22 353.74 357.27 360.79 364.31" y="232.78" class="seq" fill="#b0b6e8">GACTCACCTCGTATCAAAGAAAACTGGAGTCTCTCGGTTACTTGAGATACCTAAGTTCCCGTCTATGCCTGGTTGGGGATTTAAGG</text>
<text x="54.2 64.77 128.21 163.45 318.5 329.07" y="232.78" class="seq" fill="#b8449a">CAGACT</text>
<text x="159.92 166.97 170.49 216.31 219.83 233.93" y="232.78" class="seq" fill="#1a3a60">CTTGCC</text>
<text x="248.02" y="232.78" class="seq" fill="#606070">A</text>
<text transform="translate(17.5 254.93) scale(1 2.73)" class="lg" textLength="3.12" lengthAdjust="spacingAndGlyphs" fill="#f5ba34" stroke="#f5ba34" stroke-width="0.6" vector-effect="non-scaling-stroke">G</text>
<text transform="translate(21.02 255.2) scale(1 2.81)" class="lg" textLength="3.12" lengthAdjust="spacingAndGlyphs" fill="#2ec22e" stroke="#2ec22e" stroke-width="0.6" vector-effect="non-scaling-stroke">A</text>
<text transform="translate(24.55 254.93) scale(1 2.73)" class="lg" textLength="3.12" lengthAdjust="spacingAndGlyphs" fill="#1c1cc0" stroke="#1c1cc0" stroke-width="0.6" vector-effect="non-scaling-stroke">C</text>
<text transform="translate(28.07 255.2) scale(1 2.81)" class="lg" textLength="3.12" lengthAdjust="spacingAndGlyphs" fill="#d41c1c" stroke="#d41c1c" stroke-width="0.6" vector-effect="non-scaling-stroke">T</text>
<text transform="translate(31.6 254.93) scale(1 2.73)" class="lg" textLength="3.12" lengthAdjust="spacingAndGlyphs" fill="#1c1cc0" stroke="#1c1cc0" stroke-width="0.6" vector-effect="non-scaling-stroke">C</text>
<text transform="translate(35.12 255.2) scale(1 2.81)" class="lg" textLength="3.12" lengthAdjust="spacingAndGlyphs" fill="#2ec22e" stroke="#2ec22e" stroke-width="0.6" vector-effect="non-scaling-stroke">A</text>
<text transform="translate(38.64 254.93) scale(1 2.73)" class="lg" textLength="3.12" lengthAdjust="spacingAndGlyphs" fill="#1c1cc0" stroke="#1c1cc0" stroke-width="0.6" vector-effect="non-scaling-stroke">C</text>
<text transform="translate(42.17 254.93) scale(1 2.73)" class="lg" textLength="3.12" lengthAdjust="spacingAndGlyphs" fill="#1c1cc0" stroke="#1c1cc0" stroke-width="0.6" vector-effect="non-scaling-stroke">C</text>
<text transform="translate(45.69 255.2) scale(1 2.81)" class="lg" textLength="3.12" lengthAdjust="spacingAndGlyphs" fill="#d41c1c" stroke="#d41c1c" stroke-width="0.6" vector-effect="non-scaling-stroke">T</text>
<text transform="translate(49.22 254.93) scale(1 2.73)" class="lg" textLength="3.12" lengthAdjust="spacingAndGlyphs" fill="#1c1cc0" stroke="#1c1cc0" stroke-width="0.6" vector-effect="non-scaling-stroke">C</text>
<text transform="translate(52.74 255.15) scale(1 0.49)" class="lg" textLength="3.12" lengthAdjust="spacingAndGlyphs" fill="#f5ba34" stroke="#f5ba34" stroke-width="0.6" vector-effect="non-scaling-stroke">G</text>
<text transform="translate(52.74 251.64) scale(1 0.93)" class="lg" textLength="3.12" lengthAdjust="spacingAndGlyphs" fill="#1c1cc0" stroke="#1c1cc0" stroke-width="0.6" vector-effect="non-scaling-stroke">C</text>
<text transform="translate(56.26 254.93) scale(1 2.73)" class="lg" textLength="3.12" lengthAdjust="spacingAndGlyphs" fill="#f5ba34" stroke="#f5ba34" stroke-width="0.6" vector-effect="non-scaling-stroke">G</text>
<text transform="translate(59.79 255.2) scale(1 2.81)" class="lg" textLength="3.12" lengthAdjust="spacingAndGlyphs" fill="#d41c1c" stroke="#d41c1c" stroke-width="0.6" vector-effect="non-scaling-stroke">T</text>
<text transform="translate(63.31 255.16) scale(1 0.38)" class="lg" textLength="3.12" lengthAdjust="spacingAndGlyphs" fill="#f5ba34" stroke="#f5ba34" stroke-width="0.6" vector-effect="non-scaling-stroke">G</text>
<text transform="translate(63.31 252.5) scale(1 1.07)" class="lg" textLength="3.12" lengthAdjust="spacingAndGlyphs" fill="#2ec22e" stroke="#2ec22e" stroke-width="0.6" vector-effect="non-scaling-stroke">A</text>
<text transform="translate(66.84 255.2) scale(1 2.81)" class="lg" textLength="3.12" lengthAdjust="spacingAndGlyphs" fill="#2ec22e" stroke="#2ec22e" stroke-width="0.6" vector-effect="non-scaling-stroke">A</text>
<text transform="translate(70.36 255.2) scale(1 2.81)" class="lg" textLength="3.12" lengthAdjust="spacingAndGlyphs" fill="#d41c1c" stroke="#d41c1c" stroke-width="0.6" vector-effect="non-scaling-stroke">T</text>
<text transform="translate(73.88 254.93) scale(1 2.73)" class="lg" textLength="3.12" lengthAdjust="spacingAndGlyphs" fill="#1c1cc0" stroke="#1c1cc0" stroke-width="0.6" vector-effect="non-scaling-stroke">C</text>
<text transform="translate(77.41 255.2) scale(1 2.81)" class="lg" textLength="3.12" lengthAdjust="spacingAndGlyphs" fill="#2ec22e" stroke="#2ec22e" stroke-width="0.6" vector-effect="non-scaling-stroke">A</text>
<text transform="translate(80.93 255.2) scale(1 2.81)" class="lg" textLength="3.12" lengthAdjust="spacingAndGlyphs" fill="#2ec22e" stroke="#2ec22e" stroke-width="0.6" vector-effect="non-scaling-stroke">A</text>
<text transform="translate(84.46 255.2) scale(1 2.81)" class="lg" textLength="3.12" lengthAdjust="spacingAndGlyphs" fill="#2ec22e" stroke="#2ec22e" stroke-width="0.6" vector-effect="non-scaling-stroke">A</text>
<text transform="translate(87.98 254.93) scale(1 2.73)" class="lg" textLength="3.12" lengthAdjust="spacingAndGlyphs" fill="#f5ba34" stroke="#f5ba34" stroke-width="0.6" vector-effect="non-scaling-stroke">G</text>
<text transform="translate(91.5 255.2) scale(1 2.81)" class="lg" textLength="3.12" lengthAdjust="spacingAndGlyphs" fill="#2ec22e" stroke="#2ec22e" stroke-width="0.6" vector-effect="non-scaling-stroke">A</text>
<text transform="translate(95.03 255.2) scale(1 2.81)" class="lg" textLength="3.12" lengthAdjust="spacingAndGlyphs" fill="#2ec22e" stroke="#2ec22e" stroke-width="0.6" vector-effect="non-scaling-stroke">A</text>
<text transform="translate(98.55 255.2) scale(1 2.81)" class="lg" textLength="3.12" lengthAdjust="spacingAndGlyphs" fill="#2ec22e" stroke="#2ec22e" stroke-width="0.6" vector-effect="non-scaling-stroke">A</text>
<text transform="translate(249.58 256.6) scale(1 2.94)" class="lg" textLength="3.12" lengthAdjust="spacingAndGlyphs" fill="#d41c1c" stroke="#d41c1c" stroke-width="0.6" vector-effect="non-scaling-stroke">T</text>
<text transform="translate(253.11 256.6) scale(1 2.94)" class="lg" textLength="3.12" lengthAdjust="spacingAndGlyphs" fill="#d41c1c" stroke="#d41c1c" stroke-width="0.6" vector-effect="non-scaling-stroke">T</text>
<text transform="translate(256.63 256.32) scale(1 2.85)" class="lg" textLength="3.12" lengthAdjust="spacingAndGlyphs" fill="#1c1cc0" stroke="#1c1cc0" stroke-width="0.6" vector-effect="non-scaling-stroke">C</text>
<text transform="translate(260.16 256.32) scale(1 2.85)" class="lg" textLength="3.12" lengthAdjust="spacingAndGlyphs" fill="#1c1cc0" stroke="#1c1cc0" stroke-width="0.6" vector-effect="non-scaling-stroke">C</text>
<text transform="translate(263.68 256.32) scale(1 2.85)" class="lg" textLength="3.12" lengthAdjust="spacingAndGlyphs" fill="#1c1cc0" stroke="#1c1cc0" stroke-width="0.6" vector-effect="non-scaling-stroke">C</text>
<text transform="translate(267.2 256.32) scale(1 2.85)" class="lg" textLength="3.12" lengthAdjust="spacingAndGlyphs" fill="#f5ba34" stroke="#f5ba34" stroke-width="0.6" vector-effect="non-scaling-stroke">G</text>
<text transform="translate(270.73 256.6) scale(1 2.94)" class="lg" textLength="3.12" lengthAdjust="spacingAndGlyphs" fill="#d41c1c" stroke="#d41c1c" stroke-width="0.6" vector-effect="non-scaling-stroke">T</text>
<text transform="translate(274.25 256.32) scale(1 2.85)" class="lg" textLength="3.12" lengthAdjust="spacingAndGlyphs" fill="#1c1cc0" stroke="#1c1cc0" stroke-width="0.6" vector-effect="non-scaling-stroke">C</text>
<text transform="translate(277.78 256.6) scale(1 2.94)" class="lg" textLength="3.12" lengthAdjust="spacingAndGlyphs" fill="#d41c1c" stroke="#d41c1c" stroke-width="0.6" vector-effect="non-scaling-stroke">T</text>
<text transform="translate(281.3 256.6) scale(1 2.94)" class="lg" textLength="3.12" lengthAdjust="spacingAndGlyphs" fill="#2ec22e" stroke="#2ec22e" stroke-width="0.6" vector-effect="non-scaling-stroke">A</text>
<text transform="translate(284.82 256.6) scale(1 2.94)" class="lg" textLength="3.12" lengthAdjust="spacingAndGlyphs" fill="#d41c1c" stroke="#d41c1c" stroke-width="0.6" vector-effect="non-scaling-stroke">T</text>
<text transform="translate(288.35 256.32) scale(1 2.85)" class="lg" textLength="3.12" lengthAdjust="spacingAndGlyphs" fill="#f5ba34" stroke="#f5ba34" stroke-width="0.6" vector-effect="non-scaling-stroke">G</text>
<text transform="translate(291.87 256.32) scale(1 2.85)" class="lg" textLength="3.12" lengthAdjust="spacingAndGlyphs" fill="#1c1cc0" stroke="#1c1cc0" stroke-width="0.6" vector-effect="non-scaling-stroke">C</text>
<text transform="translate(295.4 256.32) scale(1 2.85)" class="lg" textLength="3.12" lengthAdjust="spacingAndGlyphs" fill="#1c1cc0" stroke="#1c1cc0" stroke-width="0.6" vector-effect="non-scaling-stroke">C</text>
<text transform="translate(298.92 256.6) scale(1 2.94)" class="lg" textLength="3.12" lengthAdjust="spacingAndGlyphs" fill="#d41c1c" stroke="#d41c1c" stroke-width="0.6" vector-effect="non-scaling-stroke">T</text>
<text transform="translate(302.44 256.32) scale(1 2.85)" class="lg" textLength="3.12" lengthAdjust="spacingAndGlyphs" fill="#f5ba34" stroke="#f5ba34" stroke-width="0.6" vector-effect="non-scaling-stroke">G</text>
<text transform="translate(305.97 256.32) scale(1 2.85)" class="lg" textLength="3.12" lengthAdjust="spacingAndGlyphs" fill="#f5ba34" stroke="#f5ba34" stroke-width="0.6" vector-effect="non-scaling-stroke">G</text>
<text transform="translate(309.49 256.6) scale(1 2.94)" class="lg" textLength="3.12" lengthAdjust="spacingAndGlyphs" fill="#d41c1c" stroke="#d41c1c" stroke-width="0.6" vector-effect="non-scaling-stroke">T</text>
<text transform="translate(313.02 256.6) scale(1 2.94)" class="lg" textLength="3.12" lengthAdjust="spacingAndGlyphs" fill="#d41c1c" stroke="#d41c1c" stroke-width="0.6" vector-effect="non-scaling-stroke">T</text>
<text transform="translate(316.54 256.56) scale(1 0.4)" class="lg" textLength="3.12" lengthAdjust="spacingAndGlyphs" fill="#f5ba34" stroke="#f5ba34" stroke-width="0.6" vector-effect="non-scaling-stroke">G</text>
<text transform="translate(316.54 253.67) scale(1 1.08)" class="lg" textLength="3.12" lengthAdjust="spacingAndGlyphs" fill="#1c1cc0" stroke="#1c1cc0" stroke-width="0.6" vector-effect="non-scaling-stroke">C</text>
<text transform="translate(320.06 256.32) scale(1 2.85)" class="lg" textLength="3.12" lengthAdjust="spacingAndGlyphs" fill="#f5ba34" stroke="#f5ba34" stroke-width="0.6" vector-effect="non-scaling-stroke">G</text>
<text transform="translate(323.59 256.32) scale(1 2.85)" class="lg" textLength="3.12" lengthAdjust="spacingAndGlyphs" fill="#f5ba34" stroke="#f5ba34" stroke-width="0.6" vector-effect="non-scaling-stroke">G</text>
<text transform="translate(327.11 256.57) scale(1 0.29)" class="lg" textLength="3.12" lengthAdjust="spacingAndGlyphs" fill="#f5ba34" stroke="#f5ba34" stroke-width="0.6" vector-effect="non-scaling-stroke">G</text>
<text transform="translate(327.11 254.58) scale(1 1.23)" class="lg" textLength="3.12" lengthAdjust="spacingAndGlyphs" fill="#d41c1c" stroke="#d41c1c" stroke-width="0.6" vector-effect="non-scaling-stroke">T</text>
<text transform="translate(330.64 256.32) scale(1 2.85)" class="lg" textLength="3.12" lengthAdjust="spacingAndGlyphs" fill="#f5ba34" stroke="#f5ba34" stroke-width="0.6" vector-effect="non-scaling-stroke">G</text>
<text transform="translate(334.16 256.32) scale(1 2.85)" class="lg" textLength="3.12" lengthAdjust="spacingAndGlyphs" fill="#f5ba34" stroke="#f5ba34" stroke-width="0.6" vector-effect="non-scaling-stroke">G</text>
<text transform="translate(337.68 256.6) scale(1 2.94)" class="lg" textLength="3.12" lengthAdjust="spacingAndGlyphs" fill="#2ec22e" stroke="#2ec22e" stroke-width="0.6" vector-effect="non-scaling-stroke">A</text>
<text transform="translate(341.21 256.6) scale(1 2.94)" class="lg" textLength="3.12" lengthAdjust="spacingAndGlyphs" fill="#d41c1c" stroke="#d41c1c" stroke-width="0.6" vector-effect="non-scaling-stroke">T</text>
<text transform="translate(344.73 256.6) scale(1 2.94)" class="lg" textLength="3.12" lengthAdjust="spacingAndGlyphs" fill="#d41c1c" stroke="#d41c1c" stroke-width="0.6" vector-effect="non-scaling-stroke">T</text>
<text transform="translate(348.26 256.6) scale(1 2.94)" class="lg" textLength="3.12" lengthAdjust="spacingAndGlyphs" fill="#d41c1c" stroke="#d41c1c" stroke-width="0.6" vector-effect="non-scaling-stroke">T</text>
<text transform="translate(351.78 256.6) scale(1 2.94)" class="lg" textLength="3.12" lengthAdjust="spacingAndGlyphs" fill="#2ec22e" stroke="#2ec22e" stroke-width="0.6" vector-effect="non-scaling-stroke">A</text>
<rect x="17" y="140" width="85.5" height="117" fill="none" stroke="#d42a2c" stroke-width="1.5"/>
<rect x="249.5" y="138.5" width="106" height="121" fill="none" stroke="#d42a2c" stroke-width="1.5"/>
<text x="57" y="265.1" class="lab" font-size="6.3">Probe</text>
<text x="308.9" y="266.9" class="lab" font-size="6.1">Reverse</text>
<text x="0.2" y="275.8" class="pl" font-size="8.2">B</text>
<text x="76" y="286.3" class="lab" font-size="7.45" fill="#111">RAA Primer Screen</text>
<text x="35.8" y="298.9" font-family="Liberation Serif" font-weight="bold" font-size="5.4" textLength="19.4" lengthAdjust="spacingAndGlyphs" fill="#1a1a1a" stroke="#1a1a1a" stroke-width="0.12">F264-293</text>
<path d="M55.7 297.3H58.3M57.3 296.5L58.4 297.3L57.3 298.1" stroke="#1a1a1a" stroke-width="0.55" fill="none"/>
<text x="43.0" y="304.4" font-family="Liberation Serif" font-weight="bold" font-size="5.4" textLength="19.4" lengthAdjust="spacingAndGlyphs" fill="#1a1a1a" stroke="#1a1a1a" stroke-width="0.12">F265-294</text>
<path d="M62.9 302.8H65.5M64.5 302L65.6 302.8L64.5 303.6" stroke="#1a1a1a" stroke-width="0.55" fill="none"/>
<text x="47.9" y="310.7" font-family="Liberation Serif" font-weight="bold" font-size="5.4" textLength="19.4" lengthAdjust="spacingAndGlyphs" fill="#1a1a1a" stroke="#1a1a1a" stroke-width="0.12">F266-295</text>
<path d="M67.8 309.1H70.4M69.4 308.3L70.5 309.1L69.4 309.9" stroke="#1a1a1a" stroke-width="0.55" fill="none"/>
<text x="50.3" y="316.7" font-family="Liberation Serif" font-weight="bold" font-size="5.4" textLength="19.4" lengthAdjust="spacingAndGlyphs" fill="#1a1a1a" stroke="#1a1a1a" stroke-width="0.12">F267-296</text>
<path d="M70.2 315.1H72.8M71.8 314.3L72.9 315.1L71.8 315.9" stroke="#1a1a1a" stroke-width="0.55" fill="none"/>
<text x="53.5" y="322.9" font-family="Liberation Serif" font-weight="bold" font-size="5.4" textLength="19.4" lengthAdjust="spacingAndGlyphs" fill="#1a1a1a" stroke="#1a1a1a" stroke-width="0.12">F267-297</text>
<path d="M73.4 321.3H76M75 320.5L76.1 321.3L75 322.1" stroke="#1a1a1a" stroke-width="0.55" fill="none"/>
<text x="61.4" y="328.7" font-family="Liberation Serif" font-weight="bold" font-size="5.4" textLength="19.4" lengthAdjust="spacingAndGlyphs" fill="#d42020" stroke="#d42020" stroke-width="0.12">F268-297</text>
<path d="M81.3 327.1H83.9M82.9 326.3L84 327.1L82.9 327.9" stroke="#d42020" stroke-width="0.55" fill="none"/>
<text x="90.5" y="332.3" font-family="Liberation Serif" font-weight="bold" font-size="5.4" textLength="16.5" lengthAdjust="spacingAndGlyphs" fill="#1a1a1a" stroke="#1a1a1a" stroke-width="0.12">P308-358</text>
<line x1="86.5" y1="334.1" x2="113.8" y2="334.1" stroke="#e05050" stroke-width="0.75"/>
<path d="M118.7 358.5H116.1M117.1 357.7L116 358.5L117.1 359.3" stroke="#d42020" stroke-width="0.55" fill="none"/>
<text x="119.3" y="360.1" font-family="Liberation Serif" font-weight="bold" font-size="5.4" textLength="19.4" lengthAdjust="spacingAndGlyphs" fill="#d42020" stroke="#d42020" stroke-width="0.12">R401-430</text>
<path d="M121.8 364H119.2M120.2 363.2L119.1 364L120.2 364.8" stroke="#1a1a1a" stroke-width="0.55" fill="none"/>
<text x="122.4" y="365.6" font-family="Liberation Serif" font-weight="bold" font-size="5.4" textLength="19.4" lengthAdjust="spacingAndGlyphs" fill="#1a1a1a" stroke="#1a1a1a" stroke-width="0.12">R401-431</text>
<path d="M125.2 370.1H122.6M123.6 369.3L122.5 370.1L123.6 370.9" stroke="#1a1a1a" stroke-width="0.55" fill="none"/>
<text x="125.8" y="371.7" font-family="Liberation Serif" font-weight="bold" font-size="5.4" textLength="19.4" lengthAdjust="spacingAndGlyphs" fill="#1a1a1a" stroke="#1a1a1a" stroke-width="0.12">R402-431</text>
<path d="M128.4 376.4H125.8M126.8 375.6L125.7 376.4L126.8 377.2" stroke="#1a1a1a" stroke-width="0.55" fill="none"/>
<text x="129" y="378" font-family="Liberation Serif" font-weight="bold" font-size="5.4" textLength="19.4" lengthAdjust="spacingAndGlyphs" fill="#1a1a1a" stroke="#1a1a1a" stroke-width="0.12">R403-432</text>
<path d="M133.2 381.7H130.6M131.6 380.9L130.5 381.7L131.6 382.5" stroke="#1a1a1a" stroke-width="0.55" fill="none"/>
<text x="133.8" y="383.3" font-family="Liberation Serif" font-weight="bold" font-size="5.4" textLength="19.4" lengthAdjust="spacingAndGlyphs" fill="#1a1a1a" stroke="#1a1a1a" stroke-width="0.12">R404-433</text>
<path d="M138.9 387.1H136.3M137.3 386.3L136.2 387.1L137.3 387.9" stroke="#1a1a1a" stroke-width="0.55" fill="none"/>
<text x="139.5" y="388.7" font-family="Liberation Serif" font-weight="bold" font-size="5.4" textLength="19.4" lengthAdjust="spacingAndGlyphs" fill="#1a1a1a" stroke="#1a1a1a" stroke-width="0.12">R405-434</text>
<defs><linearGradient id="yg" x1="0" x2="1"><stop offset="0" stop-color="#f6e650"/><stop offset="0.7" stop-color="#f2d456"/><stop offset="0.88" stop-color="#e0a050"/><stop offset="1" stop-color="#b85a40"/></linearGradient></defs>
<rect x="22" y="339.6" width="145.5" height="5.2" fill="#ecf3fb"/>
<rect x="22" y="344.8" width="145.5" height="5.4" fill="#fdf5e2"/>
<path d="M22.6 339.6V344.8M25.07 339.6V344.8M27.54 339.6V344.8M30.01 339.6V344.8M32.48 339.6V344.8M34.95 339.6V344.8M37.42 339.6V344.8M39.89 339.6V344.8M42.36 339.6V344.8M44.83 339.6V344.8M47.3 339.6V344.8M49.77 339.6V344.8M52.24 339.6V344.8M54.71 339.6V344.8M57.18 339.6V344.8M59.65 339.6V344.8M62.12 339.6V344.8M64.59 339.6V344.8M67.06 339.6V344.8M69.53 339.6V344.8M72 339.6V344.8M74.47 339.6V344.8M76.94 339.6V344.8M79.41 339.6V344.8M81.88 339.6V344.8M84.35 339.6V344.8M86.82 339.6V344.8M89.29 339.6V344.8M91.76 339.6V344.8M94.23 339.6V344.8M96.7 339.6V344.8M99.17 339.6V344.8M101.64 339.6V344.8M104.11 339.6V344.8M106.58 339.6V344.8M109.05 339.6V344.8M111.52 339.6V344.8M113.99 339.6V344.8M116.46 339.6V344.8M118.93 339.6V344.8M121.4 339.6V344.8M123.87 339.6V344.8M126.34 339.6V344.8M128.81 339.6V344.8M131.28 339.6V344.8M133.75 339.6V344.8M136.22 339.6V344.8M138.69 339.6V344.8M141.16 339.6V344.8M143.63 339.6V344.8M146.1 339.6V344.8M148.57 339.6V344.8M151.04 339.6V344.8M153.51 339.6V344.8M155.98 339.6V344.8M158.45 339.6V344.8M160.92 339.6V344.8M163.39 339.6V344.8M165.86 339.6V344.8" stroke="#8cb6e2" stroke-width="0.95"/>
<path d="M22.6 344.8V350.2M25.07 344.8V350.2M27.54 344.8V350.2M30.01 344.8V350.2M32.48 344.8V350.2M34.95 344.8V350.2M37.42 344.8V350.2M39.89 344.8V350.2M42.36 344.8V350.2M44.83 344.8V350.2M47.3 344.8V350.2M49.77 344.8V350.2M52.24 344.8V350.2M54.71 344.8V350.2M57.18 344.8V350.2M59.65 344.8V350.2M62.12 344.8V350.2M64.59 344.8V350.2M67.06 344.8V350.2M69.53 344.8V350.2M72 344.8V350.2M74.47 344.8V350.2M76.94 344.8V350.2M79.41 344.8V350.2M81.88 344.8V350.2M84.35 344.8V350.2M86.82 344.8V350.2M89.29 344.8V350.2M91.76 344.8V350.2M94.23 344.8V350.2M96.7 344.8V350.2M99.17 344.8V350.2M101.64 344.8V350.2M104.11 344.8V350.2M106.58 344.8V350.2M109.05 344.8V350.2M111.52 344.8V350.2M113.99 344.8V350.2M116.46 344.8V350.2M118.93 344.8V350.2M121.4 344.8V350.2M123.87 344.8V350.2M126.34 344.8V350.2M128.81 344.8V350.2M131.28 344.8V350.2M133.75 344.8V350.2M136.22 344.8V350.2M138.69 344.8V350.2M141.16 344.8V350.2M143.63 344.8V350.2M146.1 344.8V350.2M148.57 344.8V350.2M151.04 344.8V350.2M153.51 344.8V350.2M155.98 344.8V350.2M158.45 344.8V350.2M160.92 344.8V350.2M163.39 344.8V350.2M165.86 344.8V350.2" stroke="#f0ca8e" stroke-width="0.95"/>
<rect x="15" y="337.8" width="159" height="1.6" fill="#111"/>
<rect x="15" y="350.2" width="157" height="2.5" fill="url(#yg)"/>
<text x="7.8" y="341.8" font-family="Liberation Serif" font-size="7.8" fill="#262626">5’</text>
<text x="7.8" y="353.8" font-family="Liberation Serif" font-size="7.8" fill="#262626">3’</text>
<text x="175.2" y="342" font-family="Liberation Serif" font-size="7.8" fill="#262626">3’</text>
<text x="175.2" y="353.2" font-family="Liberation Serif" font-size="7.8" fill="#262626">5’</text>
<text x="181.4" y="276.1" class="pl" font-size="8.2">C</text>
<text x="290" y="281.9" class="lab" font-size="7.6" fill="#111">RAA Primer Screen</text>
<path d="M209.3 303.3H374.8M209.3 320.8H374.8M209.3 338.3H374.8M209.3 355.9H374.8M248.88 286.5V375.2M288.45 286.5V375.2M328.02 286.5V375.2M367.6 286.5V375.2" stroke="#9a9a9a" stroke-width="0.8" stroke-dasharray="1 1.7" fill="none"/>
<rect x="209.3" y="286.5" width="165.5" height="88.7" fill="none" stroke="#888" stroke-width="0.6"/>
<line x1="209.3" y1="286.5" x2="209.3" y2="375.2" stroke="#333" stroke-width="0.8"/>
<line x1="209.3" y1="375.2" x2="374.8" y2="375.2" stroke="#333" stroke-width="0.9"/>
<path d="M208.10000000000002 288.3H210.10000000000002M208.10000000000002 291.85H210.10000000000002M208.10000000000002 295.4H210.10000000000002M208.10000000000002 298.95H210.10000000000002M208.10000000000002 302.5H210.10000000000002M208.10000000000002 306.05H210.10000000000002M208.10000000000002 309.6H210.10000000000002M208.10000000000002 313.15H210.10000000000002M208.10000000000002 316.7H210.10000000000002M208.10000000000002 320.25H210.10000000000002M208.10000000000002 323.8H210.10000000000002M208.10000000000002 327.35H210.10000000000002M208.10000000000002 330.9H210.10000000000002M208.10000000000002 334.45H210.10000000000002M208.10000000000002 338H210.10000000000002M208.10000000000002 341.55H210.10000000000002M208.10000000000002 345.1H210.10000000000002M208.10000000000002 348.65H210.10000000000002M208.10000000000002 352.2H210.10000000000002M208.10000000000002 355.75H210.10000000000002M208.10000000000002 359.3H210.10000000000002M208.10000000000002 362.85H210.10000000000002M208.10000000000002 366.4H210.10000000000002M208.10000000000002 369.95H210.10000000000002M208.10000000000002 373.5H210.10000000000002" stroke="#555" stroke-width="0.5"/>
<path d="M209.3 375.2V376.8M217.22 375.2V376.8M225.13 375.2V376.8M233.05 375.2V376.8M240.96 375.2V376.8M248.88 375.2V376.8M256.79 375.2V376.8M264.71 375.2V376.8M272.62 375.2V376.8M280.54 375.2V376.8M288.45 375.2V376.8M296.37 375.2V376.8M304.28 375.2V376.8M312.2 375.2V376.8M320.11 375.2V376.8M328.02 375.2V376.8M335.94 375.2V376.8M343.86 375.2V376.8M351.77 375.2V376.8M359.69 375.2V376.8M367.6 375.2V376.8" stroke="#555" stroke-width="0.5"/>
<text x="194.1" y="305.8" font-family="Liberation Serif" font-weight="bold" font-size="6.2" fill="#222">1200</text>
<text x="194.1" y="322.9" font-family="Liberation Serif" font-weight="bold" font-size="6.2" fill="#222">800</text>
<text x="194.1" y="340.9" font-family="Liberation Serif" font-weight="bold" font-size="6.2" fill="#222">400</text>
<text x="194.1" y="358.5" font-family="Liberation Serif" font-weight="bold" font-size="6.2" fill="#222">200</text>
<text x="194.1" y="375.8" font-family="Liberation Serif" font-weight="bold" font-size="6.2" fill="#222">0</text>
<text x="209.3" y="387.6" font-family="Liberation Serif" font-weight="bold" font-size="6.7" fill="#222" text-anchor="middle">0</text>
<text x="248.88" y="387.6" font-family="Liberation Serif" font-weight="bold" font-size="6.7" fill="#222" text-anchor="middle">10</text>
<text x="288.45" y="387.6" font-family="Liberation Serif" font-weight="bold" font-size="6.7" fill="#222" text-anchor="middle">20</text>
<text x="328.02" y="387.6" font-family="Liberation Serif" font-weight="bold" font-size="6.7" fill="#222" text-anchor="middle">30</text>
<text x="367.6" y="387.6" font-family="Liberation Serif" font-weight="bold" font-size="6.7" fill="#222" text-anchor="middle">40</text>
<text x="289.2" y="396" font-family="Liberation Serif" font-weight="bold" font-size="6.8" fill="#222" text-anchor="middle">Cycles</text>
<text transform="translate(190.9 326.8) rotate(-90)" x="0" y="0" font-family="Liberation Serif" font-weight="bold" font-size="6.6" fill="#222" text-anchor="middle">RFU</text>
<path d="M213.3 371.6C219.42 371.47 241.38 371.02 250 370.8C258.62 370.58 260.23 370.83 265 370.3C269.77 369.77 274.82 368.65 278.6 367.6C282.38 366.55 284.28 365.13 287.7 364C291.12 362.87 295.3 361.6 299.1 360.8C302.9 360 307.02 359.67 310.5 359.2C313.98 358.73 316.9 358.37 320 358C323.1 357.63 325.32 357.3 329.1 357C332.88 356.7 336.32 356.43 342.7 356.2C349.08 355.97 363.28 355.7 367.4 355.6" stroke="#e6ea78" stroke-width="0.8" fill="none" stroke-linejoin="round"/>
<path d="M213.3 372.4C221.92 372.38 254.12 372.85 265 372.3C275.88 371.75 274.82 370.2 278.6 369.1C282.38 368 284.28 367.03 287.7 365.7C291.12 364.37 295.3 363 299.1 361.1C302.9 359.2 307.02 356.4 310.5 354.3C313.98 352.2 316.9 350.3 320 348.5C323.1 346.7 326.07 345.15 329.1 343.5C332.13 341.85 335.17 340.02 338.2 338.6C341.23 337.18 344.27 336.13 347.3 335C350.33 333.87 353.05 332.53 356.4 331.8C359.75 331.07 365.57 330.8 367.4 330.6" stroke="#5ad498" stroke-width="0.75" fill="none" stroke-linejoin="round"/>
<path d="M213.3 371.7C219.03 371.52 240.17 371.28 247.7 370.6C255.23 369.92 255.62 368.62 258.5 367.6C261.38 366.58 262.4 366.73 265 364.5C267.6 362.27 271.45 357.28 274.1 354.2C276.75 351.12 278.63 348.62 280.9 346C283.17 343.38 285.43 341.28 287.7 338.5C289.97 335.72 292.22 332.15 294.5 329.3C296.78 326.45 299.12 323.78 301.4 321.4C303.68 319.02 305.93 316.82 308.2 315C310.47 313.18 313.03 311.87 315 310.5C316.97 309.13 318.33 307.95 320 306.8C321.67 305.65 323.48 304.65 325 303.6C326.52 302.55 326.9 301.9 329.1 300.5C331.3 299.1 335.17 296.42 338.2 295.2C341.23 293.98 344.27 293.63 347.3 293.2C350.33 292.77 353.05 292.63 356.4 292.6C359.75 292.57 365.57 292.93 367.4 293" stroke="#f4b56c" stroke-width="0.75" fill="none" stroke-linejoin="round"/>
<path d="M213.3 371.3C216.17 371.02 225.83 370.6 230.5 369.6C235.17 368.6 238.07 366.92 241.3 365.3C244.53 363.68 247.03 361.7 249.9 359.9C252.77 358.1 255.98 356.38 258.5 354.5C261.02 352.62 262.78 350.9 265 348.6C267.22 346.3 269.53 343.53 271.8 340.7C274.07 337.87 276.32 334.45 278.6 331.6C280.88 328.75 283.22 326.07 285.5 323.6C287.78 321.13 290.03 318.88 292.3 316.8C294.57 314.72 296.83 312.8 299.1 311.1C301.37 309.4 303.63 308.12 305.9 306.6C308.17 305.08 310.43 303.33 312.7 302C314.97 300.67 316.77 300.02 319.5 298.6C322.23 297.18 325.98 294.75 329.1 293.5C332.22 292.25 335.17 291.65 338.2 291.1C341.23 290.55 344.27 290.38 347.3 290.2C350.33 290.02 353.05 289.92 356.4 290C359.75 290.08 365.57 290.58 367.4 290.7" stroke="#cc6a6a" stroke-width="0.75" fill="none" stroke-linejoin="round"/>
<path d="M213.3 367C214.38 366.72 217.65 366.3 219.8 365.3C221.95 364.3 224.05 362.62 226.2 361C228.35 359.38 230.55 357.4 232.7 355.6C234.85 353.8 236.95 352 239.1 350.2C241.25 348.4 243.45 346.95 245.6 344.8C247.75 342.65 249.85 339.62 252 337.3C254.15 334.98 256.35 333.05 258.5 330.9C260.65 328.75 262.68 327.13 264.9 324.4C267.12 321.67 269.52 317.08 271.8 314.5C274.08 311.92 276.32 310.6 278.6 308.9C280.88 307.2 283.22 305.7 285.5 304.3C287.78 302.9 290.03 301.52 292.3 300.5C294.57 299.48 296.45 298.97 299.1 298.2C301.75 297.43 305.17 296.4 308.2 295.9C311.23 295.4 313.82 295.68 317.3 295.2C320.78 294.72 325.62 293.68 329.1 293C332.58 292.32 335.17 291.48 338.2 291.1C341.23 290.72 344.27 290.88 347.3 290.7C350.33 290.52 353.05 290.12 356.4 290C359.75 289.88 365.57 290 367.4 290" stroke="#5f87b6" stroke-width="0.75" fill="none" stroke-linejoin="round"/>
<path d="M213.3 365.3C214.38 364.93 217.65 364.37 219.8 363.1C221.95 361.83 224.05 359.48 226.2 357.7C228.35 355.92 230.55 354.3 232.7 352.4C234.85 350.5 236.95 348.28 239.1 346.3C241.25 344.32 243.45 342.53 245.6 340.5C247.75 338.47 249.85 336.07 252 334.1C254.15 332.13 256.35 330.62 258.5 328.7C260.65 326.78 262.68 324.58 264.9 322.6C267.12 320.62 269.88 317.95 271.8 316.8C273.72 315.65 274.88 316.27 276.4 315.7C277.92 315.13 279.02 314.05 280.9 313.4C282.78 312.75 285.43 312.37 287.7 311.8C289.97 311.23 292.22 310.48 294.5 310C296.78 309.52 298.73 309.17 301.4 308.9C304.07 308.63 307.4 308.75 310.5 308.4C313.6 308.05 316.9 306.98 320 306.8C323.1 306.62 326.07 307.27 329.1 307.3C332.13 307.33 335.17 307.2 338.2 307C341.23 306.8 344.27 306.35 347.3 306.1C350.33 305.85 353.05 305.8 356.4 305.5C359.75 305.2 365.57 304.5 367.4 304.3" stroke="#d862d8" stroke-width="0.75" fill="none" stroke-linejoin="round"/>
<line x1="211.67" y1="373.6" x2="367.6" y2="373.7" stroke="#2a5577" stroke-width="1.1"/>
<text x="292.7" y="298.2" font-family="Liberation Serif" font-weight="bold" font-size="5.6" fill="#1a1a1a" stroke="#1a1a1a" stroke-width="0.12" text-anchor="middle">1</text>
<text x="294.1" y="310.2" font-family="Liberation Serif" font-weight="bold" font-size="5.6" fill="#1a1a1a" stroke="#1a1a1a" stroke-width="0.12" text-anchor="middle">2</text>
<text x="284.5" y="325.4" font-family="Liberation Serif" font-weight="bold" font-size="5.6" fill="#1a1a1a" stroke="#1a1a1a" stroke-width="0.12" text-anchor="middle">3</text>
<text x="294.7" y="330.6" font-family="Liberation Serif" font-weight="bold" font-size="5.6" fill="#1a1a1a" stroke="#1a1a1a" stroke-width="0.12" text-anchor="middle">4</text>
<text x="317.3" y="347.6" font-family="Liberation Serif" font-weight="bold" font-size="5.6" fill="#1a1a1a" stroke="#1a1a1a" stroke-width="0.12" text-anchor="middle">5</text>
<text x="345" y="351.8" font-family="Liberation Serif" font-weight="bold" font-size="5.6" fill="#1a1a1a" stroke="#1a1a1a" stroke-width="0.12" text-anchor="middle">6</text>
<text x="357.8" y="372" font-family="Liberation Serif" font-weight="bold" font-size="5.6" fill="#1a1a1a" stroke="#1a1a1a" stroke-width="0.12" text-anchor="middle">NC</text>
</svg></body></html>
